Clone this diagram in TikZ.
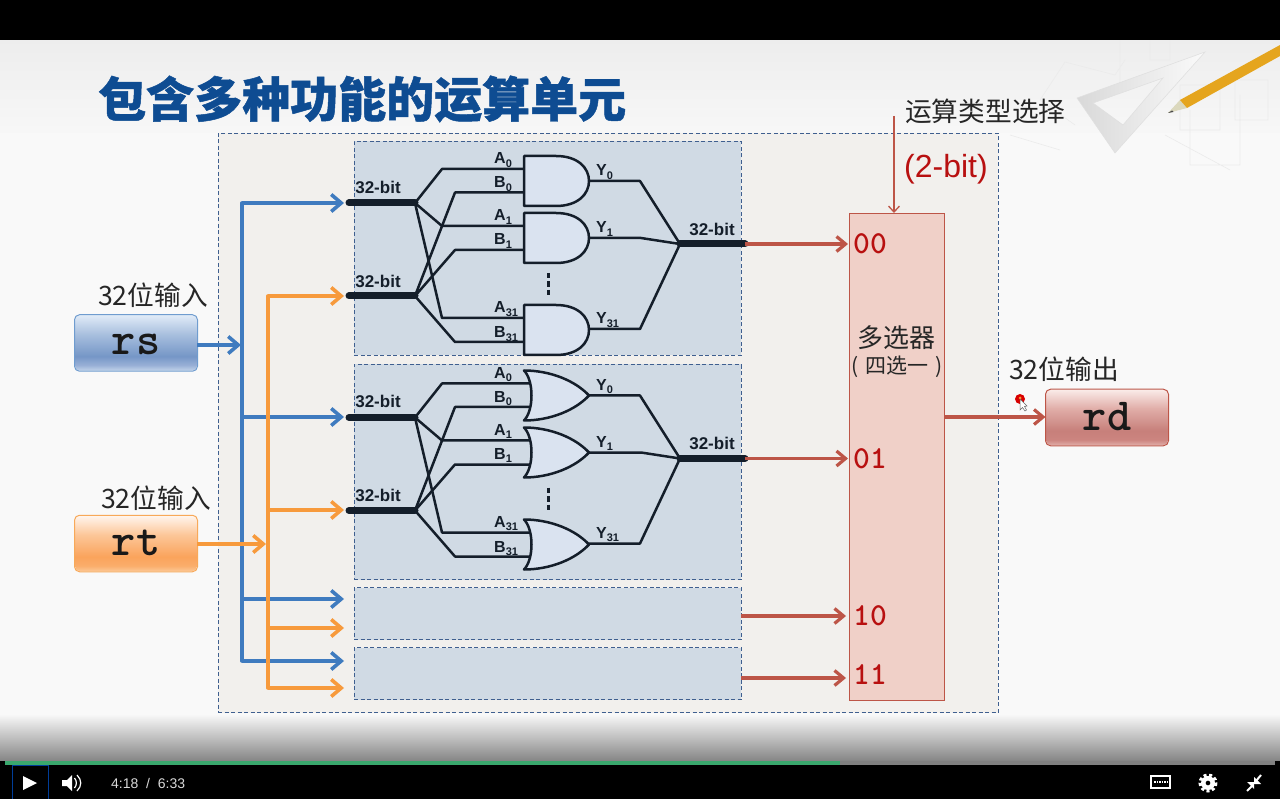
\documentclass[tikz,border=0pt]{standalone}
\usepackage{fontspec}
\setmainfont{Liberation Sans}
\newfontfamily\cjk{Noto Sans CJK SC}
\usetikzlibrary{arrows.meta,calc}
\definecolor{panelc}{HTML}{D0DAE4}
\definecolor{outerc}{HTML}{F2F0ED}
\definecolor{dashc}{HTML}{3F5F8F}
\definecolor{wirec}{HTML}{141E2A}
\definecolor{gatec}{HTML}{DAE3F0}
\definecolor{bluec}{HTML}{3F7BBF}
\definecolor{orangec}{HTML}{F79A3C}
\definecolor{redc}{HTML}{BD5547}
\definecolor{darkred}{HTML}{B81010}
\definecolor{pencilc}{HTML}{E5A51E}
\definecolor{greenc}{HTML}{3AA76D}
\definecolor{titlec}{HTML}{0E4C92}
\definecolor{muxc}{HTML}{F0D0C8}
\pgfdeclareverticalshading{rsgrad}{100bp}{rgb(0bp)=(.76,.83,.92);rgb(25bp)=(.76,.83,.92);rgb(30bp)=(.60,.69,.84);rgb(38bp)=(.46,.59,.78);rgb(58bp)=(.66,.75,.87);rgb(75bp)=(.88,.92,.97);rgb(100bp)=(.88,.92,.97)}
\pgfdeclareverticalshading{rtgrad}{100bp}{rgb(0bp)=(.99,.78,.58);rgb(25bp)=(.99,.78,.58);rgb(30bp)=(.98,.68,.42);rgb(38bp)=(.98,.64,.36);rgb(58bp)=(.99,.78,.60);rgb(75bp)=(1,.96,.93);rgb(100bp)=(1,.96,.93)}
\pgfdeclareverticalshading{rdgrad}{100bp}{rgb(0bp)=(.88,.68,.66);rgb(25bp)=(.88,.68,.66);rgb(30bp)=(.80,.52,.50);rgb(38bp)=(.78,.50,.48);rgb(58bp)=(.88,.68,.66);rgb(75bp)=(.98,.92,.91);rgb(100bp)=(.98,.92,.91)}
\newcommand{\fs}[1]{\fontsize{#1}{#1}\selectfont}
\newcommand{\pinlab}[2]{{\bfseries #1\raisebox{-3.5pt}{\fs{11}#2}}}
\newcommand{\andshape}[1]{\path[gatestyle] (524,#1) -- (556,#1) .. controls (578,#1+0) and (589,#1+12) .. (589,#1+25) .. controls (589,#1+38) and (578,#1+50) .. (556,#1+50) -- (524,#1+50) -- cycle;}
\tikzset{
  x=1pt,y=-1pt,
  panel/.style={draw=dashc,dashed,line width=.8pt,fill=panelc,dash pattern=on 4pt off 2.5pt},
  gatestyle/.style={draw=wirec,fill=gatec,line width=2.5pt,line join=round},
  wire/.style={draw=wirec,line width=2.5pt,line join=round},
  bus/.style={draw=wirec,line width=7pt,line cap=round},
  bl/.style={draw=bluec,line width=3.6pt,-{Straight Barb[length=10pt,width=17pt,line width=3.6pt]}},
  bln/.style={draw=bluec,line width=3.6pt},
  og/.style={draw=orangec,line width=3.6pt,-{Straight Barb[length=10pt,width=17pt,line width=3.6pt]}},
  ogn/.style={draw=orangec,line width=3.6pt},
  rd/.style={draw=redc,line width=3.2pt,-{Straight Barb[length=9pt,width=15pt,line width=3.2pt]}},
  pin/.style={anchor=west,inner sep=0,font=\fs{16},text=wirec},
  buslab/.style={inner sep=0,font=\fs{17}\bfseries,text=wirec},
  cn/.style={inner sep=0,font=\cjk\fs{26.7},text=black!85},
  code/.style={inner sep=0,font=\ttfamily\bfseries\addfontfeature{FakeBold=2}\fs{46},text=black!90},
  muxin/.style={inner sep=0,font=\ttfamily\bfseries\addfontfeature{FakeBold=1}\fs{32},text=darkred},
  regbox/.style={rounded corners=5pt,minimum width=122pt,minimum height=55.5pt,inner sep=0,line width=1pt},
  ico/.style={draw=white,line width=1.3pt},
  print/.style={draw=black!8,line width=.6pt},
}
\newcommand{\orshape}[1]{\path[gatestyle] (524,#1) .. controls (550,#1+0) and (575,#1+10) .. (589,#1+25) .. controls (575,#1+40) and (550,#1+50) .. (524,#1+50) .. controls (534,#1+40) and (534,#1+10) .. (524,#1) -- cycle;}
\begin{document}
\begin{tikzpicture}
\useasboundingbox (0,0) rectangle (1280,799);
% backdrop
\fill[black] (0,0) rectangle (1280,799);
\fill[black!2.5] (0,133) rectangle (1280,715);
\shade[top color=black!7,bottom color=black!3] (0,40.5) rectangle (1280,133);
\shade[top color=black!3,bottom color=black!47] (0,715) rectangle (1280,760);
% blueprint decoration
\draw[print] (1040,100) -- (1065,62) -- (1115,75) -- (1125,60) (1120,40.5) -- (1120,85)
  (1040,100) -- (1075,125) (1010,135) -- (1060,150) (1180,85) rectangle (1220,130)
  (1190,110) -- (1190,165) -- (1240,165) -- (1240,95) (1165,135) -- (1230,170)
  (1150,40.5) -- (1150,60) -- (1170,60) -- (1170,40.5) (1235,80) rectangle (1268,120);
\path[draw=black!12,left color=black!15,right color=black!2,line width=.6pt,even odd rule] (1077,98) -- (1205,52) -- (1115,153) -- cycle
  (1093,103) -- (1163,78) -- (1123,125) -- cycle;
\fill[black!55!yellow!30!white] (1180,100) -- (1187,108) -- (1168,113) -- cycle;
\fill[black!70] (1172,110.5) -- (1173.5,112) -- (1168,113) -- cycle;
\fill[pencilc] (1180,100) -- (1280,45) -- (1280,56) -- (1187,108) -- cycle;
% title
\node[inner sep=0,anchor=west,font=\cjk\bfseries\addfontfeature{FakeBold=1}\fs{48},text=titlec] (title) at (98,99) {包含多种功能的运算单元};
% frames
\node[panel,minimum width=780pt,minimum height=579pt,fill=outerc,inner sep=0] (outer) at (608,423) {};
\node[panel,minimum width=387pt,minimum height=214pt,inner sep=0] (p1) at (547.5,248.5) {};
\node[panel,minimum width=387pt,minimum height=215pt,inner sep=0] (p2) at (547.5,472) {};
\node[panel,minimum width=387pt,minimum height=52pt,inner sep=0] (p3) at (547.5,613.5) {};
\node[panel,minimum width=387pt,minimum height=52pt,inner sep=0] (p4) at (547.5,673.5) {};
% gate groups
\foreach \g/\s/\gate in {a/0/\andshape,o/214.5/\orshape}{
  \coordinate (\g S1) at (349,{203+\s});
  \coordinate (\g M1) at (415,{203+\s});
  \coordinate (\g S2) at (349,{296+\s});
  \coordinate (\g M2) at (415,{296+\s});
  \coordinate (\g E) at (680,{244+\s});
  \coordinate (\g O) at (745,{244+\s});
  \coordinate (\g dA) at (548,{273+\s});
  \coordinate (\g dB) at (548,{298+\s});
  \foreach \n/\ya/\yb/\gy/\yo/\xe in {0/169/192.5/156/181/640,1/226/250/213/238/641,31/318/342/305/329/640}{
    \coordinate (\g a\n) at (442,{\ya+\s});
    \coordinate (\g A\n) at (530,{\ya+\s});
    \coordinate (\g b\n) at (455,{\yb+\s});
    \coordinate (\g B\n) at (530,{\yb+\s});
    \coordinate (\g Y\n) at (589,{\yo+\s});
    \coordinate (\g K\n) at (\xe,{\yo+\s});
    \draw[wire] (\g M1) -- (\g a\n) -- (\g A\n);
    \draw[wire] (\g M2) -- (\g b\n) -- (\g B\n);
    \draw[wire] (\g Y\n) -- (\g K\n) -- (\g E);
    \pgfmathsetmacro{\gyy}{\gy+\s}
    \gate{\gyy}
  }
  \draw[bus] (\g S1) -- (\g M1);
  \draw[bus] (\g S2) -- (\g M2);
  \draw[bus] (\g E) -- (\g O);
  \draw[wirec,line width=3pt,dash pattern=on 5.5pt off 3pt] (\g dA) -- (\g dB);
  \node[buslab] at (378,{187+\s}) {32-bit};
  \node[buslab] at (378,{281+\s}) {32-bit};
  \node[buslab] at (712,{229+\s}) {32-bit};
  \node[pin] at (494,{160+\s}) {\pinlab{A}{0}};
  \node[pin] at (494,{184+\s}) {\pinlab{B}{0}};
  \node[pin] at (494,{217+\s}) {\pinlab{A}{1}};
  \node[pin] at (494,{241+\s}) {\pinlab{B}{1}};
  \node[pin] at (494,{309+\s}) {\pinlab{A}{31}};
  \node[pin] at (494,{334+\s}) {\pinlab{B}{31}};
  \node[pin] at (596,{172+\s}) {\pinlab{Y}{0}};
  \node[pin] at (596,{229+\s}) {\pinlab{Y}{1}};
  \node[pin] at (596,{320+\s}) {\pinlab{Y}{31}};
}
% registers
\node[regbox,shading=rsgrad] (rs) at (136,343) {};
\path[draw=bluec!75,line width=1pt,rounded corners=5pt] (rs.south west) rectangle (rs.north east);
\node[code] at (136,344) {rs};
\node[regbox,shading=rtgrad] (rt) at (136,543.5) {};
\path[draw=orangec!85,line width=1pt,rounded corners=5pt] (rt.south west) rectangle (rt.north east);
\node[code] at (136,543) {rt};
\node[regbox,shading=rdgrad] (rd) at (1107,417.5) {};
\path[draw=redc,line width=1pt,rounded corners=5pt] (rd.south west) rectangle (rd.north east);
\node[code] at (1107,417) {rd};
\node[cn] (l1) at (153,295) {32位输入};
\node[cn] (l2) at (156,498) {32位输入};
\node[cn] (l3) at (1064,369) {32位输出};
% mux
\node[draw=redc,line width=1pt,fill=muxc,minimum width=95pt,minimum height=486pt,inner sep=0] (mux) at (896.5,457) {};
\node[inner sep=0,font=\cjk\fs{26},text=black!85] (m1) at (896,338) {多选器};
\node[inner sep=0,font=\cjk\fs{21},text=black!85] (m2) at (897,367) {(\,\,四选一\,\,)};
\node[muxin] (i0) at (870,244) {00};
\node[muxin] (i1) at (870,459) {01};
\node[muxin] (i2) at (870,616) {10};
\node[muxin] (i3) at (870,675) {11};
% select
\node[cn,anchor=west] (sel) at (905,111) {运算类型选择};
\node[inner sep=0,font=\fs{32},text=darkred] (bits) at (946,169) {(2-bit)};
\coordinate (selT) at (894,116);
\coordinate (selB) at (894,213);
\draw[redc,line width=1.3pt,-{Straight Barb[length=6pt,width=11pt,line width=1.3pt]}] (selT) -- (selB);
% blue
\coordinate (bT) at (242,203); \coordinate (bB) at (242,661);
\coordinate (bIn) at (241,345);
\draw[bln,line cap=round] (bT) -- (bB);
\draw[bl] (bT) -- (344,203);
\draw[bl] (242,417) -- (344,417);
\draw[bl] (242,599) -- (344,599);
\draw[bl] (bB) -- (344,661);
\draw[bl] (197,345) -- (bIn);
% orange
\coordinate (oT) at (268,296); \coordinate (oB) at (268,688);
\coordinate (oIn) at (266,544);
\draw[ogn,line cap=round] (oT) -- (oB);
\draw[og] (oT) -- (344,296);
\draw[og] (268,510) -- (344,510);
\draw[og] (268,628) -- (344,628);
\draw[og] (oB) -- (344,688);
\draw[og] (197,544) -- (oIn);
% outputs
\draw[rd] (aO) -- (848,244);
\draw[rd] (oO) -- (848,458.5);
\draw[rd] (741,616) -- (846,616);
\draw[rd] (741,678) -- (846,678);
\draw[rd] (mux.east |- 0,417) -- (rd.west |- 0,417);
% laser pointer
\fill[red!85!black] (1020,399) circle (5);
\fill[orange!80!white] (1020,398) circle (1.5);
\path[draw=black!60,fill=white,line width=.5pt] (1020,399) -- (1020,410) -- (1022.5,407.5) -- (1025,411) -- (1026.5,410) -- (1024.5,406.5) -- (1027,406) -- cycle;
% player
\fill[black!50] (5,761) rectangle (1275,765);
\fill[greenc] (5,761) rectangle (840,765);
\draw[blue!60!cyan!60!black,line width=.8pt] (12,765) -- (12,799) (48,799) -- (48,765) -- (12,765);
\fill[white] (23,776) -- (37,783) -- (23,790) -- cycle;
\fill[white] (62,780) -- (67,780) -- (72,775) -- (72,791) -- (67,786) -- (62,786) -- cycle;
\draw[ico,line width=1.2pt] (74.5,778) .. controls (77,781) and (77,785) .. (74.5,788) (77,775) .. controls (82,780) and (82,786) .. (77,791);
\node[inner sep=0,anchor=west,text=black!15,font=\fs{14}] (time) at (111,783) {4:18 \ / \ 6:33};
\draw[ico] (1151,776) rectangle (1170,788);
\draw[white,line width=2pt,dash pattern=on 1.5pt off 1pt] (1154,782) -- (1168,782);
\fill[white,even odd rule] (1208,783) circle (7) (1208,783) circle (2.5);
\draw[white,line width=3pt,dash pattern=on 3pt off 2.5pt] (1208,783) circle (8);
\draw[ico,line width=2pt] (1247,791) -- (1253,785) (1261,775) -- (1256,781);
\fill[white] (1254,777) -- (1254,784) -- (1261,784) -- cycle;
\fill[white] (1247,782) -- (1254,782) -- (1254,789) -- cycle;
\end{tikzpicture}
\end{document}
